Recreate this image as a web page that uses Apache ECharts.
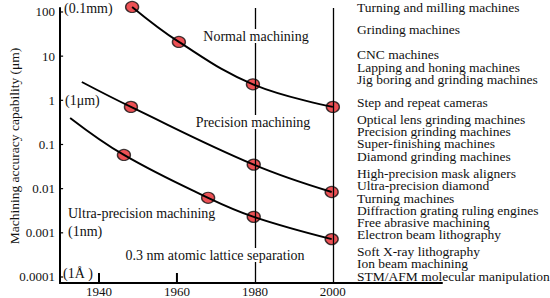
<!DOCTYPE html>
<html>
<head>
<meta charset="utf-8">
<script src="https://cdn.jsdelivr.net/npm/echarts@6/dist/echarts.min.js"></script>
<style>
html,body{margin:0;padding:0;background:#fff;}
#chart{width:550px;height:298px;background:#fff;}
</style>
</head>
<body>
<div id="chart"></div>
<script>
// ---- data ----
const curve1Years = [1948.5, 1960.5, 1979.5, 2000];
const curve1Values = [130, 21, 2.3, 0.71];
const curve1Marked = [true, true, true, true];

const curve2Years = [1935.6, 1948.2, 1979.7, 1999.7];
const curve2Values = [2.6, 0.71, 0.035, 0.0084];
const curve2Marked = [false, true, true, true];

const curve3Years = [1932.6, 1946.4, 1968, 1979.7, 1999.7];
const curve3Values = [0.4, 0.058, 0.0062, 0.0023, 0.00072];
const curve3Marked = [false, true, true, true, true];

const yTickValues = [100, 10, 1, 0.1, 0.01, 0.001, 0.0001];
const yTickLabels = ['100', '10', '1', '0.1', '0.01', '0.001', '0.0001'];
const xTickLabels = [1940, 1960, 1980, 2000];
const xMinorTicks = [1940, 1960];
const eraLines = [1980, 2000];

const rightList = [
  'Turning and milling machines', 'Grinding machines', 'CNC machines',
  'Lapping and honing machines', 'Jig boring and grinding machines',
  'Step and repeat cameras', 'Optical lens grinding machines',
  'Precision grinding machines', 'Super-finishing machines',
  'Diamond grinding machines', 'High-precision mask aligners',
  'Ultra-precision diamond', 'Turning machines',
  'Diffraction grating ruling engines', 'Free abrasive machining',
  'Electron beam lithography', 'Soft X-ray lithography',
  'Ion beam machining', 'STM/AFM molecular manipulation'
];

// ---- layout / style ----
const X_MIN = 1930, X_MAX = 2028, Y_MIN = -4.136, Y_MAX = 2.09;
const X_TICK_LEN = 0.226;  // ~10px in log-decades
const Y_TICK_LEN = 0.8;    // ~3px in years
const rightListY = [7, 29, 54, 67, 79, 102, 119, 131, 143, 156, 173, 185, 198, 210, 222, 234, 251, 263, 276];
const SERIF = '"Liberation Serif", "DejaVu Serif", serif';

const lg = v => Math.log10(v);
const toLine = (ys, vs) => ys.map((y, i) => [y, lg(vs[i])]);
const toMarks = (ys, vs, m) => ys.map((y, i) => [y, lg(vs[i])]).filter((_, i) => m[i]);

const labelMap = {};
yTickValues.forEach((v, i) => { labelMap[Math.round(lg(v))] = yTickLabels[i]; });
const yTickPositions = yTickValues.map(v => Math.round(lg(v)));

const lineStyle = { color: '#000', width: 1.9 };
function curve(ys, vs) {
  return { type: 'line', data: toLine(ys, vs), smooth: 0.4, showSymbol: false, symbol: 'none',
    lineStyle: lineStyle, clip: false, z: 5, silent: true };
}
function marks(ys, vs, m) {
  return { type: 'scatter', data: toMarks(ys, vs, m), symbol: 'circle', symbolSize: [13, 11],
    itemStyle: { color: '#e8262a', borderColor: '#111', borderWidth: 1.3 }, clip: false, z: 3, silent: true };
}
function seg(points, width) {
  return { type: 'line', data: points, showSymbol: false, symbol: 'none', clip: false, z: 6, silent: true,
    lineStyle: { color: '#000', width: width } };
}

function txt(x, y, s, size, bg, align, lh) {
  const style = { text: s, font: size + 'px ' + SERIF, fill: '#111', verticalAlign: 'middle',
    align: align || 'left', lineHeight: lh || size };
  if (bg) { style.backgroundColor = '#fff'; style.padding = [0, 1]; }
  return { type: 'text', x: x, y: y, z: 100, silent: true, style: style };
}

const graphics = [
  txt(64, 8, '(0.1mm)', 14),
  txt(65, 100, '(1\u03bcm)', 14),
  txt(63, 273, '(1\u00c5 )', 14),
  txt(256, 36, 'Normal machining', 14, true, 'center'),
  txt(253, 122, 'Precision machining', 14, true, 'center'),
  txt(68, 213, 'Ultra-precision machining', 14),
  txt(68, 231, '(1nm)', 14),
  txt(215, 255, '0.3 nm atomic lattice separation', 14, true, 'center')
];
rightList.forEach((s, i) => graphics.push(txt(357, rightListY[i], s, 13.5, false, 'left', 11.5)));
const yName = txt(14, 146, 'Machining accuracy capability (\u03bcm)', 13.5, false, 'center');
yName.rotation = Math.PI / 2;
graphics.push(yName);

// axis frame and ticks as plain line series in data space
const frameSeries = [seg([[X_MIN, Y_MAX], [X_MIN, Y_MIN], [X_MAX, Y_MIN]], 2)];
xMinorTicks.forEach(t => frameSeries.push(seg([[t, Y_MIN], [t, Y_MIN + X_TICK_LEN]], 2)));
yTickPositions.forEach(t => frameSeries.push(seg([[X_MIN, t], [X_MIN + Y_TICK_LEN, t]], 1.2)));

const chart = echarts.init(document.getElementById('chart'), null, { renderer: 'svg' });
chart.setOption({
  animation: false,
  grid: { left: 60, right: 108, top: 8, bottom: 15, outerBoundsMode: 'none' },
  xAxis: {
    type: 'value', min: X_MIN, max: X_MAX,
    axisLine: { show: true, onZero: false, lineStyle: { color: '#000', width: 2 } },
    axisTick: { show: false },
    axisLabel: { customValues: xTickLabels, color: '#111', fontFamily: SERIF, fontSize: 13, lineHeight: 13, margin: 2,
      formatter: v => String(v) },
    splitLine: { show: false }
  },
  yAxis: {
    type: 'value', min: Y_MIN, max: Y_MAX,
    axisLine: { show: true, onZero: false, lineStyle: { color: '#000', width: 2 } },
    axisTick: { show: false },
    axisLabel: { customValues: yTickPositions, color: '#111', fontFamily: SERIF, fontSize: 13, margin: 5,
      formatter: v => labelMap[Math.round(v)] || '' },
    splitLine: { show: false }
  },
  graphic: graphics,
  series: [
    { type: 'line', data: [], silent: true, clip: false, z: 4,
      markLine: { silent: true, symbol: ['none', 'none'], label: { show: false },
        lineStyle: { color: '#000', width: 1.3, type: 'solid' },
        data: eraLines.map(v => ({ xAxis: v })) } },
    marks(curve1Years, curve1Values, curve1Marked),
    marks(curve2Years, curve2Values, curve2Marked),
    marks(curve3Years, curve3Values, curve3Marked),
    curve(curve1Years, curve1Values),
    curve(curve2Years, curve2Values),
    curve(curve3Years, curve3Values)
  ].concat(frameSeries)
});
</script>
</body>
</html>
